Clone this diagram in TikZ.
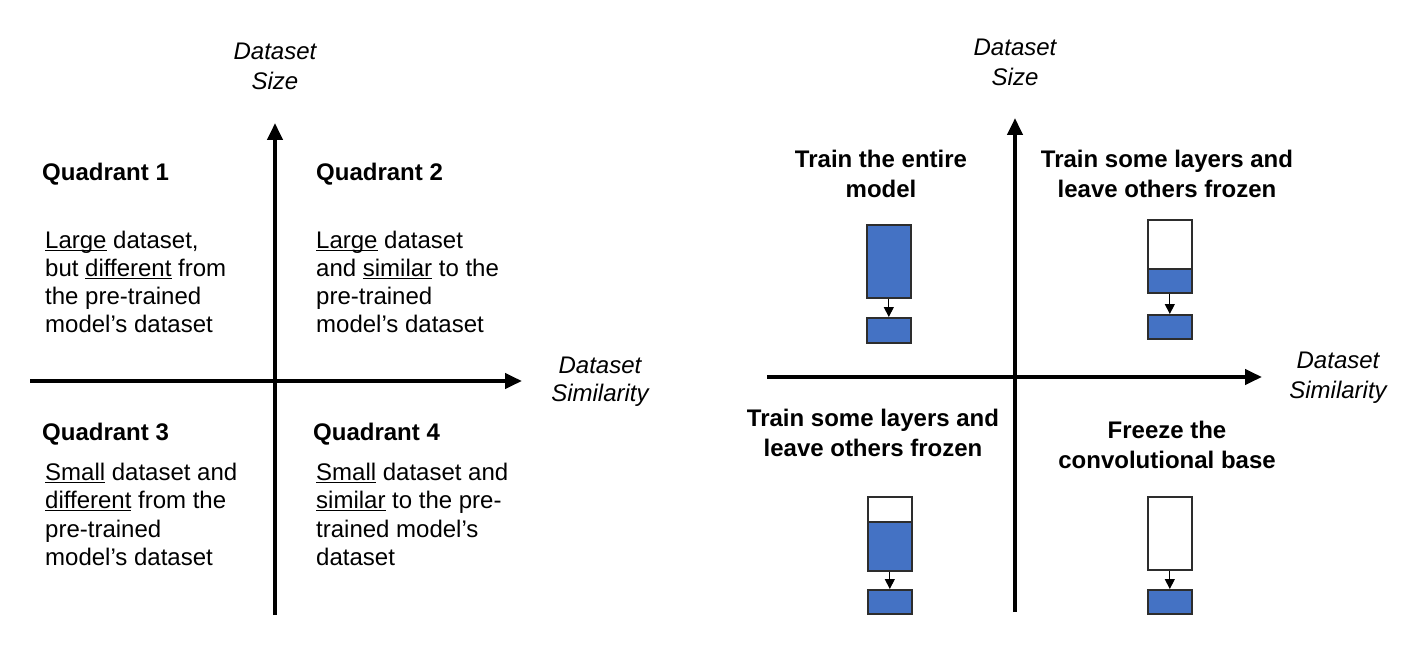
\documentclass[tikz,border=0pt]{standalone}
\usepackage{fontspec}
\setmainfont{Liberation Sans}
\usetikzlibrary{arrows.meta}
\definecolor{layerblue}{RGB}{68,114,196}
\definecolor{edgegray}{RGB}{45,45,45}
\newcommand{\myul}[1]{\setbox0\hbox{#1}\rlap{\rule[-3.2pt]{\wd0}{1.1pt}}\box0\relax}
\tikzset{
  txt/.style={font=\fontsize{24}{29}\selectfont, inner sep=0pt, anchor=base west},
  ttl/.style={font=\fontsize{24}{29}\selectfont\bfseries, inner sep=0pt, anchor=base west},
  ctr/.style={font=\fontsize{24}{29}\selectfont\bfseries, inner sep=0pt, anchor=base},
  axlbl/.style={font=\fontsize{24}{29}\selectfont\itshape, inner sep=0pt, anchor=base},
  axis/.style={line width=4pt, -{Triangle[width=15pt,length=17pt]}},
  layer/.style={draw=edgegray, line width=1.6pt, inner sep=0pt, anchor=north west, minimum width=44pt},
  blayer/.style={layer, fill=layerblue},
  wlayer/.style={layer, fill=white},
  flow/.style={line width=1pt, -{Triangle[width=10pt,length=10pt]}}
}
\begin{document}
\begin{tikzpicture}[x=1pt,y=-1pt]
\useasboundingbox (0,0) rectangle (1412,668);

% ---------- left panel ----------
\coordinate (lvb) at (275,615);
\coordinate (lvt) at (275,123);
\coordinate (lhl) at (30,381);
\coordinate (lhr) at (522,381);
\draw[axis] (lvb) -- (lvt);
\draw[axis] (lhl) -- (lhr);

\node[axlbl] (ls1) at (275,60) {Dataset};
\node[axlbl] (ls2) at (275,90) {Size};
\node[axlbl] (lm1) at (600,373) {Dataset};
\node[axlbl] (lm2) at (600,401) {Similarity};

\node[ttl] (q1) at (42,181) {Quadrant 1};
\node[txt] (q1a) at (45,248) {\myul{Large} dataset,};
\node[txt] (q1b) at (45,276) {but \myul{different} from};
\node[txt] (q1c) at (45,304) {the pre-trained};
\node[txt] (q1d) at (45,332) {model’s dataset};

\node[ttl] (q2) at (316,181) {Quadrant 2};
\node[txt] (q2a) at (316,248) {\myul{Large} dataset};
\node[txt] (q2b) at (316,276) {and \myul{similar} to the};
\node[txt] (q2c) at (316,304) {pre-trained};
\node[txt] (q2d) at (316,332) {model’s dataset};

\node[ttl] (q3) at (42,440) {Quadrant 3};
\node[txt] (q3a) at (45,480) {\myul{Small} dataset and};
\node[txt] (q3b) at (45,508) {\myul{different} from the};
\node[txt] (q3c) at (45,537) {pre-trained};
\node[txt] (q3d) at (45,565) {model’s dataset};

\node[ttl] (q4) at (313,440) {Quadrant 4};
\node[txt] (q4a) at (316,480) {\myul{Small} dataset and};
\node[txt] (q4b) at (316,508) {\myul{similar} to the pre-};
\node[txt] (q4c) at (316,537) {trained model’s};
\node[txt] (q4d) at (316,565) {dataset};

% ---------- right panel ----------
\coordinate (rvb) at (1015,612);
\coordinate (rvt) at (1015,118);
\coordinate (rhl) at (767,377);
\coordinate (rhr) at (1262,377);
\draw[axis] (rvb) -- (rvt);
\draw[axis] (rhl) -- (rhr);

\node[axlbl] (rs1) at (1015,56) {Dataset};
\node[axlbl] (rs2) at (1015,86) {Size};
\node[axlbl] (rm1) at (1338,368) {Dataset};
\node[axlbl] (rm2) at (1338,398) {Similarity};

\node[ctr] (t1a) at (881,168) {Train the entire};
\node[ctr] (t1b) at (881,198) {model};
\node[ctr] (t2a) at (1167,168) {Train some layers and};
\node[ctr] (t2b) at (1167,198) {leave others frozen};
\node[ctr] (t3a) at (873,426) {Train some layers and};
\node[ctr] (t3b) at (873,456) {leave others frozen};
\node[ctr] (t4a) at (1167,438) {Freeze the};
\node[ctr] (t4b) at (1167,468) {convolutional base};

% top-left: entire model trained
\node[blayer, minimum height=73pt] (tlbig) at (866,224) {};
\node[blayer, minimum height=25pt] (tlsm) at (866,317) {};
\draw[flow] (tlbig.south) -- (tlsm.north);

% top-right: some layers trained
\node[wlayer, minimum height=49pt] (trtop) at (1147,219) {};
\node[blayer, minimum height=24pt] (trbot) at (1147,268) {};
\node[blayer, minimum height=24pt] (trsm) at (1147,314) {};
\draw[flow] (trbot.south) -- (trsm.north);

% bottom-left: some layers trained
\node[wlayer, minimum height=25pt] (bltop) at (867,496) {};
\node[blayer, minimum height=49pt] (blbot) at (867,521) {};
\node[blayer, minimum height=24pt] (blsm) at (867,589) {};
\draw[flow] (blbot.south) -- (blsm.north);

% bottom-right: frozen base
\node[wlayer, minimum height=73pt] (brbig) at (1147,496) {};
\node[blayer, minimum height=24pt] (brsm) at (1147,589) {};
\draw[flow] (brbig.south) -- (brsm.north);
\end{tikzpicture}
\end{document}
